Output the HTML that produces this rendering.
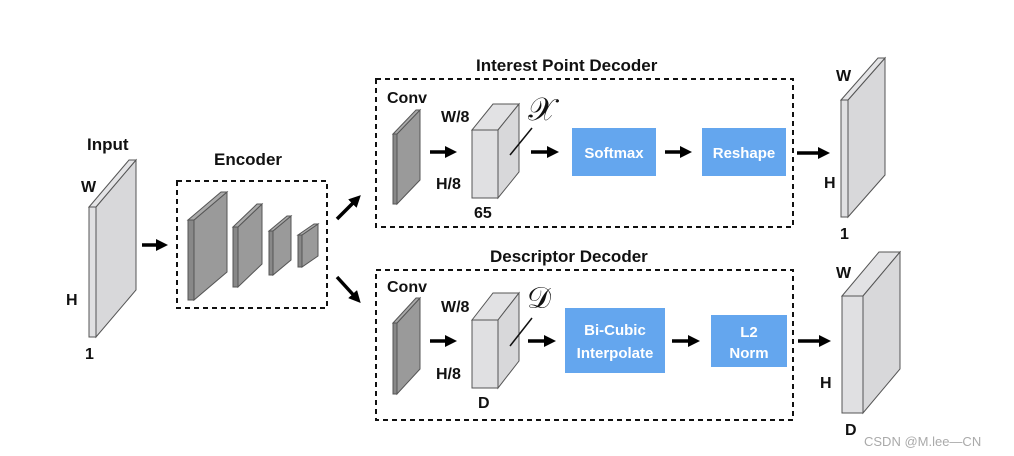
<!DOCTYPE html>
<html><head><meta charset="utf-8"><style>
html,body{margin:0;padding:0;background:#fff;}
svg{display:block;}
text{font-family:"Liberation Sans",sans-serif;font-weight:bold;fill:#111;}
</style></head><body>
<svg width="1014" height="456" viewBox="0 0 1014 456" xmlns="http://www.w3.org/2000/svg">
<defs>
<marker id="ah" markerWidth="12" markerHeight="12" refX="8" refY="6" orient="auto" markerUnits="userSpaceOnUse"><path d="M0,0 L12,6 L0,12 Z" fill="#000"/></marker>
</defs>
<rect width="1014" height="456" fill="#fff"/>
<g stroke="#555" stroke-width="1">
<polygon points="96,207 136,160 136,290 96,337" fill="#d8d8da"/>
<polygon points="89,207 129,160 136,160 96,207" fill="#e4e4e6"/>
<rect x="89" y="207" width="7" height="130" fill="#e0e0e2"/>
<polygon points="194,220 227,192 227,272 194,300" fill="#9a9a9a"/>
<polygon points="188,220 221,192 227,192 194,220" fill="#aaa"/>
<rect x="188" y="220" width="6" height="80" fill="#888"/>
<polygon points="238,227 262,204 262,264 238,287" fill="#9a9a9a"/>
<polygon points="233,227 257,204 262,204 238,227" fill="#aaa"/>
<rect x="233" y="227" width="5" height="60" fill="#888"/>
<polygon points="273,231 291,216 291,260 273,275" fill="#9a9a9a"/>
<polygon points="269,231 287,216 291,216 273,231" fill="#aaa"/>
<rect x="269" y="231" width="4" height="44" fill="#888"/>
<polygon points="302,235 318,224 318,256 302,267" fill="#9a9a9a"/>
<polygon points="298,235 314,224 318,224 302,235" fill="#aaa"/>
<rect x="298" y="235" width="4" height="32" fill="#888"/>
<polygon points="397,134 420,110 420,180 397,204" fill="#9a9a9a"/>
<polygon points="393,134 416,110 420,110 397,134" fill="#aaa"/>
<rect x="393" y="134" width="4" height="70" fill="#888"/>
<polygon points="397,323 420,298 420,369 397,394" fill="#9a9a9a"/>
<polygon points="393,323 416,298 420,298 397,323" fill="#aaa"/>
<rect x="393" y="323" width="4" height="71" fill="#888"/>
<polygon points="472,130 493,104 519,104 498,130" fill="#e2e2e4"/>
<polygon points="498,130 519,104 519,172 498,198" fill="#d8d8da"/>
<rect x="472" y="130" width="26" height="68" fill="#e0e0e2"/>
<polygon points="472,320 493,293 519,293 498,320" fill="#e2e2e4"/>
<polygon points="498,320 519,293 519,361 498,388" fill="#d8d8da"/>
<rect x="472" y="320" width="26" height="68" fill="#e0e0e2"/>
<polygon points="848,100 885,58 885,175 848,217" fill="#d8d8da"/>
<polygon points="841,100 878,58 885,58 848,100" fill="#e4e4e6"/>
<rect x="841" y="100" width="7" height="117" fill="#e0e0e2"/>
<polygon points="842,296 879,252 900,252 863,296" fill="#e2e2e4"/>
<polygon points="863,296 900,252 900,369 863,413" fill="#d8d8da"/>
<rect x="842" y="296" width="21" height="117" fill="#e0e0e2"/>
</g>
<g fill="none" stroke="#111" stroke-width="2" stroke-dasharray="5,4">
<rect x="177" y="181" width="150" height="127"/>
<rect x="376" y="79" width="417" height="148"/>
<rect x="376" y="270" width="417" height="150"/>
</g>
<line x1="510" y1="155" x2="532" y2="128" stroke="#111" stroke-width="1.5"/>
<line x1="510" y1="346" x2="532" y2="318" stroke="#111" stroke-width="1.5"/>
<g stroke="#000" stroke-width="3.5" marker-end="url(#ah)">
<line x1="142" y1="245" x2="164" y2="245"/>
<line x1="337" y1="219" x2="358" y2="198"/>
<line x1="337" y1="277" x2="358" y2="300"/>
<line x1="430" y1="152" x2="453" y2="152"/>
<line x1="531" y1="152" x2="555" y2="152"/>
<line x1="665" y1="152" x2="688" y2="152"/>
<line x1="797" y1="153" x2="826" y2="153"/>
<line x1="430" y1="341" x2="453" y2="341"/>
<line x1="528" y1="341" x2="552" y2="341"/>
<line x1="672" y1="341" x2="696" y2="341"/>
<line x1="798" y1="341" x2="827" y2="341"/>
</g>
<g fill="#64a6ee">
<rect x="572" y="128" width="84" height="48"/>
<rect x="702" y="128" width="84" height="48"/>
<rect x="565" y="308" width="100" height="65"/>
<rect x="711" y="315" width="76" height="52"/>
</g>
<g font-size="15" text-anchor="middle">
<text x="614" y="158" style="fill:#fff">Softmax</text>
<text x="744" y="158" style="fill:#fff">Reshape</text>
<text x="615" y="335" style="fill:#fff">Bi-Cubic</text>
<text x="615" y="358" style="fill:#fff">Interpolate</text>
<text x="749" y="337" style="fill:#fff">L2</text>
<text x="749" y="358" style="fill:#fff">Norm</text>
</g>
<g font-size="17">
<text x="87" y="150">Input</text>
<text x="214" y="165">Encoder</text>
<text x="476" y="71">Interest Point Decoder</text>
<text x="490" y="262">Descriptor Decoder</text>
</g>
<g font-size="16">
<text x="81" y="192">W</text>
<text x="66" y="305">H</text>
<text x="85" y="359">1</text>
<text x="387" y="103">Conv</text>
<text x="387" y="292">Conv</text>
<text x="441" y="122">W/8</text>
<text x="436" y="189">H/8</text>
<text x="474" y="218">65</text>
<text x="441" y="312">W/8</text>
<text x="436" y="379">H/8</text>
<text x="478" y="408">D</text>
<text x="836" y="81">W</text>
<text x="824" y="188">H</text>
<text x="840" y="239">1</text>
<text x="836" y="278">W</text>
<text x="820" y="388">H</text>
<text x="845" y="435">D</text>
</g>
<text x="528" y="120" font-size="32" style="font-family:'DejaVu Serif',serif;font-weight:normal">𝒳</text>
<text x="527" y="308" font-size="30" style="font-family:'DejaVu Serif',serif;font-weight:normal">𝒟</text>
<text x="864" y="446" font-size="13" style="font-weight:normal;fill:#aaa">CSDN @M.lee—CN</text>
</svg>
</body></html>
